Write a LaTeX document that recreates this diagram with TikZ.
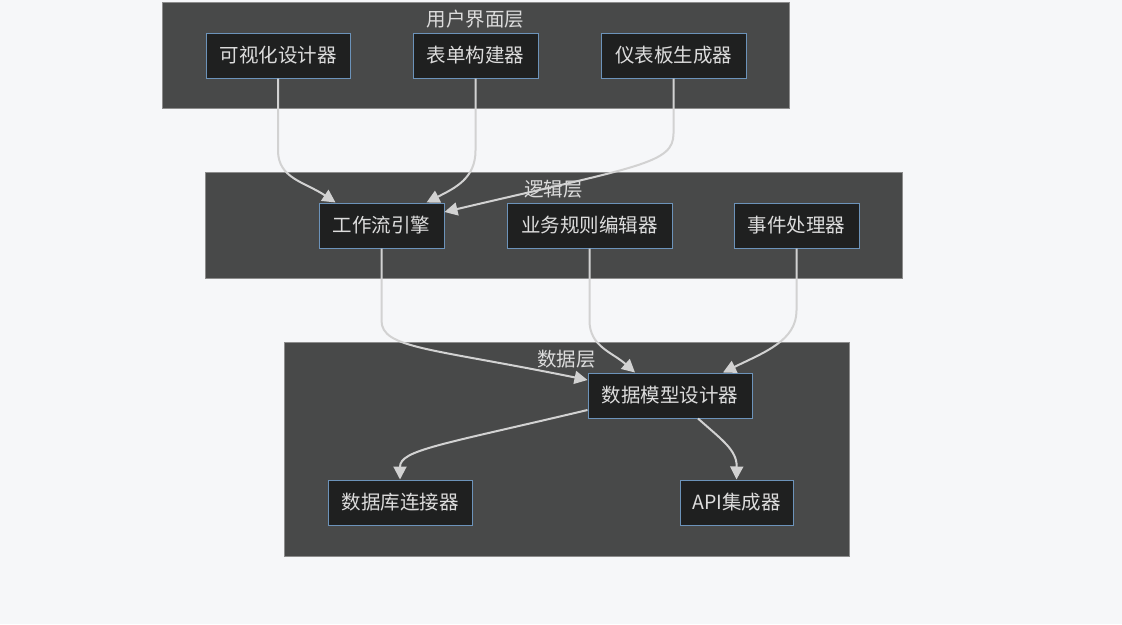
\documentclass[tikz,border=0pt]{standalone}
\usepackage{fontspec}
\newfontfamily\cjk{Noto Sans CJK SC}
\usetikzlibrary{arrows.meta}
\definecolor{bgcol}{HTML}{F6F7F9}
\definecolor{layercol}{HTML}{484949}
\definecolor{layerline}{HTML}{8C8C8C}
\definecolor{boxcol}{HTML}{1F2020}
\definecolor{boxline}{HTML}{6C93BA}
\definecolor{textcol}{HTML}{DCDCDC}
\definecolor{edgecol}{HTML}{D2D2D2}
\tikzset{
  layer/.style={fill=layercol, draw=layerline, line width=0.8pt},
  layertitle/.style={text=textcol, font=\cjk\fontsize{19.5}{23}\selectfont, inner sep=0pt},
  module/.style={draw=boxline, fill=boxcol, line width=1pt, text=textcol,
    font=\cjk\fontsize{19.5}{23}\selectfont, minimum height=45pt, inner sep=0pt},
  link/.style={draw=edgecol, line width=2pt, -{Triangle[length=13pt,width=13pt]}}
}
\begin{document}
\begin{tikzpicture}[x=1pt, y=-1pt]
    \useasboundingbox[fill=bgcol] (0,0) rectangle (1122,624);
    % Layers
    \draw[layer] (162,2) rectangle (789,108);
    \node[layertitle] (uititle) at (475.5,19) {用户界面层};
    \draw[layer] (205,172) rectangle (902,278);
    \node[layertitle] (logictitle) at (553.5,189) {逻辑层};
    \draw[layer] (284,342) rectangle (849,556);
    \node[layertitle] (datatitle) at (566.5,359) {数据层};
    % User interface layer
    \node[module, minimum width=144pt] (vis) at (278,55.5) {可视化设计器};
    \node[module, minimum width=125pt] (form) at (475.5,55.5) {表单构建器};
    \node[module, minimum width=145pt] (dash) at (673.5,55.5) {仪表板生成器};
    % Logic layer
    \node[module, minimum width=125pt] (wf) at (381.5,225.5) {工作流引擎};
    \node[module, minimum width=165pt] (rule) at (589.5,225.5) {业务规则编辑器};
    \node[module, minimum width=125pt] (evt) at (796.5,225.5) {事件处理器};
    % Data layer
    \node[module, minimum width=164pt] (dm) at (670,395.5) {数据模型设计器};
    \node[module, minimum width=144pt] (db) at (400,502.5) {数据库连接器};
    \node[module, minimum width=113pt] (api) at (736.5,502.5) {API集成器};
    % Links
    \draw[link] (vis.south) -- ++(0,72) .. controls ++(0,28) and (305,182) .. ([xshift=-46pt]wf.north);
    \draw[link] (form.south) -- ++(0,72) .. controls ++(0,28) and (455,188) .. ([xshift=45pt]wf.north);
    \draw[link] (dash.south) -- ++(0,55) .. controls ++(0,30) and (640,166) .. ([yshift=13.5pt]wf.east);
    \draw[link] (wf.south) -- ++(0,72) .. controls ++(0,28) and (430,348) .. ([yshift=15.5pt]dm.west);
    \draw[link] (rule.south) -- ++(0,72) .. controls ++(0,26) and (612,352) .. ([xshift=-35pt]dm.north);
    \draw[link] (evt.south) -- ++(0,62) .. controls ++(0,30) and (765,352) .. ([xshift=53pt]dm.north);
    \draw[link] ([yshift=-14.5pt]dm.west) .. controls (440,445) and (400,450) .. (db.north);
    \draw[link] ([xshift=28pt]dm.south) .. controls (722,440) and (737,450) .. (api.north);
\end{tikzpicture}
\end{document}
